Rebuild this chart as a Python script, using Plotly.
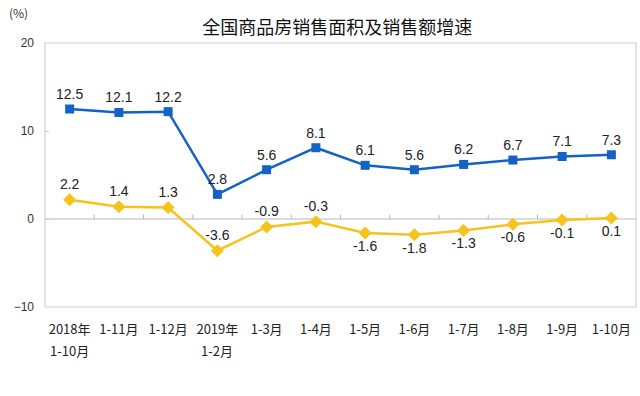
import plotly.graph_objects as go

categories = ["2018年", "1-11月", "1-12月", "2019年", "1-3月", "1-4月",
              "1-5月", "1-6月", "1-7月", "1-8月", "1-9月", "1-10月"]
categories_line2 = ["1-10月", "", "", "1-2月", "", "", "", "", "", "", "", ""]
area_growth = [12.5, 12.1, 12.2, 2.8, 5.6, 8.1, 6.1, 5.6, 6.2, 6.7, 7.1, 7.3]
sales_growth = [2.2, 1.4, 1.3, -3.6, -0.9, -0.3, -1.6, -1.8, -1.3, -0.6, -0.1, 0.1]
yellow_label_pos = ["top center"] * 6 + ["bottom center"] * 6
y_ticks = [-10, 0, 10, 20]

x = list(range(len(categories)))
BLUE = "#1462c6"
YELLOW = "#f6c21c"
LABEL_FONT = dict(family="Arial, Liberation Sans, sans-serif", size=14, color="#222222")
TICK_FONT = dict(family="Noto Sans CJK SC, sans-serif", size=13, color="#222222")

fig = go.Figure()
fig.add_trace(go.Scatter(
    x=x, y=area_growth, mode="lines+markers+text",
    line=dict(color=BLUE, width=2.5),
    marker=dict(symbol="square", size=9, color=BLUE),
    text=[f"{v:.1f}" for v in area_growth], textposition="top center",
    textfont=LABEL_FONT, showlegend=False, cliponaxis=False))
fig.add_trace(go.Scatter(
    x=x, y=sales_growth, mode="lines+markers+text",
    line=dict(color=YELLOW, width=2.5),
    marker=dict(symbol="diamond", size=10, color=YELLOW),
    text=[f"{v:.1f}" for v in sales_growth], textposition=yellow_label_pos,
    textfont=LABEL_FONT, showlegend=False, cliponaxis=False))

shapes = [dict(type="line", xref="paper", yref="y", x0=0, x1=1, y0=0, y1=0,
               line=dict(color="#b8b8b8", width=1.2), layer="below")]
for i in range(len(categories) - 1):
    shapes.append(dict(type="line", xref="x", yref="y", x0=i + 0.5, x1=i + 0.5,
                       y0=0, y1=0.5, line=dict(color="#b8b8b8", width=1), layer="below"))
shapes.append(dict(type="rect", xref="paper", yref="paper", x0=0, x1=1, y0=0, y1=1,
                   line=dict(color="#cfcfcf", width=1.2), layer="below"))

annotations = [dict(text="(%)", xref="paper", yref="paper", x=-0.065, y=1 + 31 / 264,
                    xanchor="left", yanchor="middle", showarrow=False,
                    font=dict(family="Noto Sans CJK SC, sans-serif", size=12, color="#333333"))]
for i, t in enumerate(categories_line2):
    if t:
        annotations.append(dict(text=t, xref="x", yref="paper", x=i, y=-(350 - 307) / 264,
                                xanchor="center", yanchor="middle", showarrow=False,
                                font=TICK_FONT))

fig.update_layout(
    width=640, height=396,
    margin=dict(l=45, r=4, t=43, b=89),
    paper_bgcolor="white", plot_bgcolor="white",
    font=dict(family="Noto Sans CJK SC, sans-serif", color="#222222"),
    title=dict(text="全国商品房销售面积及销售额增速", x=0.527, xanchor="center",
               y=1 - 28 / 396, yanchor="middle",
               font=dict(family="Noto Sans CJK SC, sans-serif", size=18, color="#111111")),
    shapes=shapes,
    annotations=annotations,
)
fig.update_xaxes(
    range=[-0.5, len(categories) - 0.5], tickvals=x, ticktext=categories,
    showgrid=False, zeroline=False, showline=False, ticks="",
    tickfont=TICK_FONT, ticklabelstandoff=13)
fig.update_yaxes(
    range=[-10, 20], tickvals=y_ticks, showgrid=False, zeroline=False, showline=False,
    ticks="inside", ticklen=4, tickcolor="#cfcfcf",
    tickfont=dict(family="Arial, Liberation Sans, sans-serif", size=12, color="#333333"),
    ticklabelstandoff=10)

fig.write_html("out.html")
